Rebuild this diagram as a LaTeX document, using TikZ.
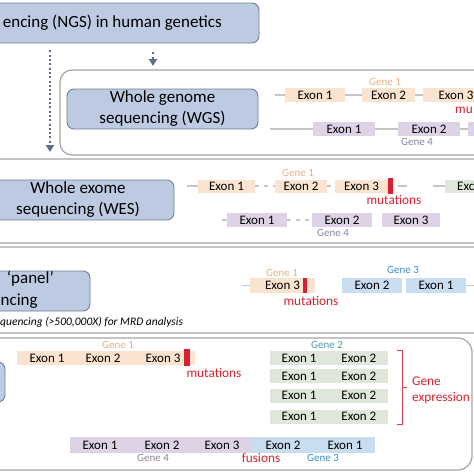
\documentclass[tikz,border=0pt]{standalone}
\usepackage{fontspec}
\setmainfont{Carlito}
\usepackage{xcolor}
\usepackage{tikz}
\usetikzlibrary{arrows.meta,positioning}
\definecolor{boxblue}{HTML}{BCCBE2}
\definecolor{boxedge}{HTML}{6F7F98}
\definecolor{peach}{HTML}{FBE4CF}
\definecolor{peachtxt}{HTML}{E3B088}
\definecolor{lilac}{HTML}{DDD2E6}
\definecolor{lilactxt}{HTML}{8E8299}
\definecolor{skyb}{HTML}{C8DDF0}
\definecolor{skybtxt}{HTML}{3C8CC4}
\definecolor{sage}{HTML}{DFE7DA}
\definecolor{sagetxt}{HTML}{4B9AA6}
\definecolor{mutred}{HTML}{D8202E}
\definecolor{framegray}{HTML}{A5A5A5}
\definecolor{arrowgray}{HTML}{5E6E88}

\begin{document}
\begin{tikzpicture}[x=1pt,y=-1pt,
    ngsbox/.style={rectangle,rounded corners=7pt,draw=boxedge,line width=0.9pt,fill=boxblue,inner sep=0pt,align=center,font=\fontsize{17}{21}\selectfont},
    boxtext/.style={inner sep=0pt,font=\fontsize{17}{21}\selectfont},
    frame/.style={rectangle,rounded corners=12pt,draw=framegray,line width=1.2pt,inner sep=0pt},
    exon/.style={rectangle,inner sep=0pt,minimum height=14pt,font=\fontsize{13}{15}\selectfont},
    g1/.style={exon,fill=peach},
    g2/.style={exon,fill=sage},
    g3/.style={exon,fill=skyb},
    g4/.style={exon,fill=lilac},
    etxt/.style={inner sep=0pt,font=\fontsize{13}{15}\selectfont},
    glab/.style={inner sep=0pt,font=\fontsize{11}{13}\selectfont},
    mut/.style={inner sep=0pt,text=mutred,font=\fontsize{13.3}{16}\selectfont},
    mbar/.style={rectangle,fill=mutred,inner sep=0pt,minimum width=4.5pt,minimum height=16pt},
    intron/.style={-,draw=gray!45,line width=1.2pt},
    gapped/.style={dash pattern=on 4pt off 5pt},
    brk/.style={-,mutred!85,line width=0.9pt},
    dotarr/.style={-{Triangle[length=7pt,width=8pt]},dash pattern=on 2pt off 2.3pt,line width=2.2pt,arrowgray}]
\useasboundingbox (0,0) rectangle (474,474);
% section frames
\node[frame,minimum width=430pt,minimum height=85pt] (wgsframe) at (275,112.5) {};
\node[frame,minimum width=510pt,minimum height=84pt] (wesframe) at (235,201) {};
\node[frame,minimum width=510pt,minimum height=86pt] (panelframe) at (235,290) {};
\node[frame,rounded corners=14pt,minimum width=492pt,minimum height=132pt] (mrdframe) at (226,404) {};
% heading box and arrows
\node[ngsbox,minimum width=280pt,minimum height=40pt] (ngs) at (119,23) {};
\node[boxtext,anchor=east] (ngslabel) at (222,23) {encing (NGS) in human genetics};
\coordinate (wesin) at (50,152);
\coordinate (wgsin) at (153,66);
\draw[dotarr,shorten <=7pt] (ngs.south -| wesin) -- (wesin);
\draw[dotarr,shorten <=9pt] (ngs.south -| wgsin) -- (wgsin);
% WGS
\node[ngsbox,minimum width=191pt,minimum height=40pt] (wgs) at (162.5,109) {Whole genome\\sequencing (WGS)};
\node[g1,minimum width=60pt] (wa1) at (315,95) {Exon 1};
\node[g1,minimum width=53pt] (wa2) at (388.5,95) {Exon 2};
\node[g1,minimum width=66pt] (wa3) at (456,95) {Exon 3};
\coordinate (wa0) at (275,95);
\draw[intron] (wa0) -- (wa1) -- (wa2) -- (wa3);
\node[glab,text=peachtxt] (wg1) at (385,82) {Gene 1};
\node[mut,anchor=west] (wmut) at (455,110) {mu};
\node[g4,minimum width=62pt] (wb1) at (344,129) {Exon 1};
\node[g4,minimum width=62pt] (wb2) at (429,129) {Exon 2};
\node[g4,minimum width=62pt,anchor=west] (wb3) at (468,129) {};
\coordinate (wb0) at (270,129);
\draw[intron] (wb0) -- (wb1) -- (wb2) -- (wb3);
\node[glab,text=lilactxt] (wg4) at (417,142) {Gene 4};
% WES
\node[ngsbox,minimum width=192pt,minimum height=40pt] (wes) at (78,200) {Whole exome\\sequencing (WES)};
\node[g1,minimum width=57pt,minimum height=13pt] (ea1) at (226.5,186) {Exon 1};
\node[g1,minimum width=52pt,minimum height=13pt] (ea2) at (301,186) {Exon 2};
\node[g1,minimum width=53pt,minimum height=13pt] (ea3) at (361.5,186) {Exon 3};
\node[mbar,anchor=west] (emb) at (ea3.east) {};
\node[g2,minimum width=60pt,minimum height=13pt,anchor=west] (ec1) at (445,186) {};
\node[etxt,anchor=west] (ec1t) at (457,186) {Exc};
\coordinate (ea0) at (187,186);
\coordinate (ea4) at (398,186);
\coordinate (ea5) at (407,186);
\coordinate (ea6) at (433,186);
\draw[intron] (ea0) -- (ea1);
\draw[intron,gapped] (ea1) -- (ea2);
\draw[intron,gapped] (ea2) -- (ea3);
\draw[intron] (ea4) -- (ea5);
\draw[intron] (ea6) -- (ec1);
\node[glab,text=peachtxt] (eg1) at (298,173) {Gene 1};
\node[mut] (emut) at (394,200) {mutations};
\node[g4,minimum width=60pt] (eb1) at (257,220) {Exon 1};
\node[g4,minimum width=60pt] (eb2) at (342,220) {Exon 2};
\node[g4,minimum width=58pt] (eb3) at (411,220) {Exon 3};
\coordinate (eb0) at (222,220);
\draw[intron] (eb0) -- (eb1);
\draw[intron,gapped] (eb1) -- (eb2);
\node[glab,text=lilactxt] (eg4) at (333,233) {Gene 4};
% targeted panel
\node[ngsbox,minimum width=110pt,minimum height=40pt] (panel) at (35,291) {};
\node[boxtext,anchor=base east] (panela) at (54,283) {‘panel’};
\node[boxtext,anchor=base west] (panelb) at (0.5,305) {ncing};
\node[inner sep=0pt,anchor=west,font=\fontsize{11.5}{13}\selectfont\itshape] (mrdnote) at (0,322) {quencing (>500,000X) for MRD analysis};
\node[g1,minimum width=65pt,minimum height=15pt] (pa3) at (282.5,285.5) {Exon 3};
\node[mbar,minimum height=15pt] (pmb) at (305,285.5) {};
\node[g3,minimum width=60pt,minimum height=15pt] (pc2) at (372,285.5) {Exon 2};
\node[g3,minimum width=60pt,minimum height=15pt] (pc1) at (436,285.5) {Exon 1};
\coordinate (pa0) at (242,285.5);
\coordinate (pc0) at (474,285.5);
\draw[intron] (pa0) -- (pa3);
\draw[intron] (pc1) -- (pc0);
\node[glab,text=peachtxt] (pg1) at (282,273) {Gene 1};
\node[glab,text=skybtxt] (pg3) at (403,270) {Gene 3};
\node[mut] (pmut) at (311,301) {mutations};
% MRD / RNA panel
\node[ngsbox,minimum width=65pt,minimum height=40pt] (mrd) at (-27.5,382) {};
\node[g1,minimum width=178pt] (ma) at (106,358) {};
\node[etxt] (ma1) at (47,358) {Exon 1};
\node[etxt] (ma2) at (103,358) {Exon 2};
\node[etxt] (ma3) at (163,358) {Exon 3};
\node[mbar,minimum width=6pt,minimum height=17pt] (mmb) at (187,357.5) {};
\node[mut] (mmut) at (214,373) {mutations};
\node[glab,text=peachtxt] (mg1) at (118,345) {Gene 1};
\foreach \i/\yy in {1/358,2/376,3/395.5,4/416.5}
  \node[g2,minimum width=118pt] (mx\i) at (329,\yy) {Exon 1\hspace{25pt}Exon 2};
\node[glab,text=sagetxt] (mg2) at (327,345) {Gene 2};
\draw[brk] (397,350) -- (402,350) -- (402,424) -- (397,424);
\draw[brk] (402,387) -- (407,387);
\node[mut,anchor=west,align=left] (mexp) at (412,390) {Gene\\expression};
\node[g4,minimum width=182pt,minimum height=16pt] (mb) at (161,445) {};
\node[g3,minimum width=123pt,minimum height=16pt] (mc) at (313.5,445) {};
\node[etxt] (mb1) at (100,445) {Exon 1};
\node[etxt] (mb2) at (162,445) {Exon 2};
\node[etxt] (mb3) at (222,445) {Exon 3};
\node[etxt] (mc2) at (283,445) {Exon 2};
\node[etxt] (mc1) at (345,445) {Exon 1};
\node[glab,text=lilactxt] (mg4) at (153,458) {Gene 4};
\node[mut] (mfus) at (261,458) {fusions};
\node[glab,text=skybtxt] (mg3) at (323,458) {Gene 3};
\end{tikzpicture}
\end{document}
